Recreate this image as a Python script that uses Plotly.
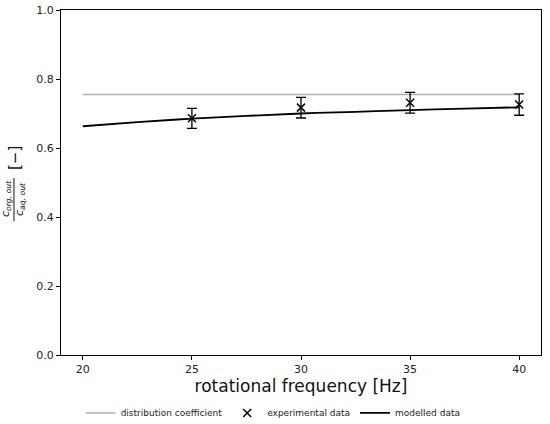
import plotly.graph_objs as go

# data
freq_exp = [25, 30, 35, 40]
ratio_exp = [0.686, 0.717, 0.731, 0.726]
ratio_err = [0.029, 0.030, 0.030, 0.031]

freq_model = [20, 22.5, 25, 27.5, 30, 32.5, 35, 37.5, 40]
ratio_model = [0.663, 0.675, 0.685, 0.693, 0.700, 0.705, 0.710, 0.714, 0.718]

freq_dist = [20, 40]
dist_coeff = [0.755, 0.755]

font = "DejaVu Sans"

fig = go.Figure()
fig.add_trace(go.Scatter(
    x=freq_dist, y=dist_coeff, mode="lines",
    name="distribution coefficient",
    line=dict(color="#b0b0b0", width=1.5),
))
fig.add_trace(go.Scatter(
    x=freq_exp, y=ratio_exp, mode="markers",
    name="experimental data",
    marker=dict(symbol="x-thin", size=8, color="black",
                line=dict(color="black", width=1.5)),
    error_y=dict(type="data", array=ratio_err, color="black",
                 thickness=1.3, width=5),
))
fig.add_trace(go.Scatter(
    x=freq_model, y=ratio_model, mode="lines",
    name="modelled data",
    line=dict(color="black", width=1.8, shape="spline"),
))

axis_common = dict(
    showline=True, linecolor="black", linewidth=1, mirror=True,
    ticks="outside", ticklen=4, tickcolor="black",
    showgrid=False, zeroline=False,
    tickfont=dict(family=font, size=11, color="#222"),
)
fig.update_xaxes(range=[19, 41], tickvals=[20, 25, 30, 35, 40],
                 title=dict(text="rotational frequency [Hz]",
                            font=dict(family=font, size=17, color="#111"),
                            standoff=2),
                 **axis_common)
fig.update_yaxes(range=[0, 1], tickvals=[0, 0.2, 0.4, 0.6, 0.8, 1.0],
                 tickformat=".1f", **axis_common)

# y axis label: c_org,out / c_aq,out [-], built from rotated annotations
label_font = dict(family=font, size=11, color="#111")
fig.add_annotation(
    xref="paper", yref="paper", x=0, y=0.452, xshift=-55,
    xanchor="center", yanchor="middle", textangle=-90, showarrow=False,
    text="<i>c</i><sub><i>org, out</i></sub>", font=label_font,
)
fig.add_annotation(
    xref="paper", yref="paper", x=0, y=0.452, xshift=-41,
    xanchor="center", yanchor="middle", textangle=-90, showarrow=False,
    text="<i>c</i><sub><i>aq, out</i></sub>", font=label_font,
)
fig.add_shape(type="line", xref="paper", yref="paper",
              x0=-0.098, x1=-0.098, y0=0.388, y1=0.513,
              line=dict(color="#111", width=1))
fig.add_annotation(
    xref="paper", yref="paper", x=0, y=0.571, xshift=-46,
    xanchor="center", yanchor="middle", textangle=-90, showarrow=False,
    text="[−]", font=dict(family=font, size=15, color="#111"),
)

fig.update_layout(
    width=550, height=424,
    margin=dict(l=61, r=9, t=10, b=69, autoexpand=False),
    paper_bgcolor="white", plot_bgcolor="white",
    font=dict(family=font),
    legend=dict(orientation="h", x=0.442, xanchor="center",
                y=-0.168, yanchor="middle", itemwidth=30,
                font=dict(family=font, size=9, color="#222")),
)

# drop the default 8px page margin so the figure fills the window
fig.write_html("out.html", config={"displayModeBar": False},
               post_script="document.body.style.margin='0px';")
